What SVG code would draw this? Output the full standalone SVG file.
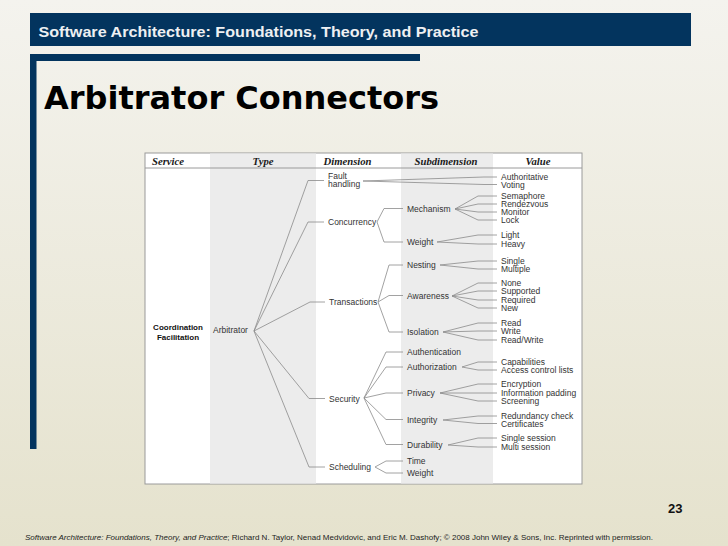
<svg xmlns="http://www.w3.org/2000/svg" width="728" height="546" viewBox="0 0 728 546">
<defs>
<linearGradient id="bg" x1="0" y1="0" x2="0" y2="1">
<stop offset="0" stop-color="#f4f3ee"/>
<stop offset="1" stop-color="#e5e2cd"/>
</linearGradient>
</defs>
<style>
.t{font-family:"Liberation Sans",Arial,sans-serif;font-size:8.5px;fill:#333}
.h{font-family:"Liberation Serif","Times New Roman",serif;font-size:10.7px;font-weight:bold;font-style:italic;fill:#1a1a1a}
.c{fill:none;stroke:#8a8a8a;stroke-width:0.8}
</style>
<rect x="0" y="0" width="728" height="546" fill="url(#bg)"/>
<g id="slide-frame">
<rect x="30" y="13" width="661" height="33" fill="#03345e"/>
<text x="38.5" y="36.5" font-family="Liberation Sans,Arial,sans-serif" font-size="15" font-weight="bold" fill="#eef0f2" textLength="440" lengthAdjust="spacingAndGlyphs">Software Architecture: Foundations, Theory, and Practice</text>
<rect x="30" y="54" width="390" height="7" fill="#03345e"/>
<rect x="30" y="54" width="6.5" height="395" fill="#03345e"/>
<text x="44" y="109" font-family="DejaVu Sans,Verdana,sans-serif" font-size="32" font-weight="bold" fill="#000">Arbitrator Connectors</text>
</g>
<g id="table">
<rect x="145" y="153" width="437" height="331" fill="#fff" stroke="#9a9a9a" stroke-width="1"/>
<rect x="210" y="153.5" width="106" height="330" fill="#ececec"/>
<rect x="401" y="153.5" width="92" height="330" fill="#ececec"/>
<line x1="145" y1="168" x2="582" y2="168" stroke="#9a9a9a" stroke-width="1"/>
<text class="h" x="152" y="164.5">Service</text>
<text class="h" x="263" y="164.5" text-anchor="middle">Type</text>
<text class="h" x="347.5" y="164.5" text-anchor="middle">Dimension</text>
<text class="h" x="446" y="164.5" text-anchor="middle">Subdimension</text>
<text class="h" x="538" y="164.5" text-anchor="middle">Value</text>
</g>
<g id="connectors">
<polyline class="c" points="254,331 308,180.5 324,180.5"/>
<polyline class="c" points="254,331 308,222 324,222"/>
<polyline class="c" points="254,331 310,302 325,302"/>
<polyline class="c" points="254,331 309,398.5 325,398.5"/>
<polyline class="c" points="254,331 309,467 325,467"/>
<polyline class="c" points="363,181 484,177 497,177"/>
<polyline class="c" points="363,181 484,184.5 497,184.5"/>
<polyline class="c" points="377,222 384,208.5 403,208.5"/>
<polyline class="c" points="377,222 384,242 403,242"/>
<polyline class="c" points="378,302 389,265 403,265"/>
<polyline class="c" points="378,302 389,295.5 403,295.5"/>
<polyline class="c" points="378,302 389,332 403,332"/>
<polyline class="c" points="364,398 386,352 403,352"/>
<polyline class="c" points="364,398 386,367 403,367"/>
<polyline class="c" points="364,398 386,393 403,393"/>
<polyline class="c" points="364,398 386,419.5 403,419.5"/>
<polyline class="c" points="364,398 386,444.5 403,444.5"/>
<polyline class="c" points="375,467 386,461 403,461"/>
<polyline class="c" points="375,467 386,473 403,473"/>
<polyline class="c" points="455,209 478,196 497,196"/>
<polyline class="c" points="455,209 478,204 497,204"/>
<polyline class="c" points="455,209 478,212 497,212"/>
<polyline class="c" points="455,209 478,220 497,220"/>
<polyline class="c" points="437,242 478,235 497,235"/>
<polyline class="c" points="437,242 478,244 497,244"/>
<polyline class="c" points="440,265 478,261 497,261"/>
<polyline class="c" points="440,265 478,269 497,269"/>
<polyline class="c" points="452,296 478,283 497,283"/>
<polyline class="c" points="452,296 478,291 497,291"/>
<polyline class="c" points="452,296 478,300 497,300"/>
<polyline class="c" points="452,296 478,308 497,308"/>
<polyline class="c" points="443,332 478,323 497,323"/>
<polyline class="c" points="443,332 478,331 497,331"/>
<polyline class="c" points="443,332 478,340 497,340"/>
<polyline class="c" points="462,367 478,362 497,362"/>
<polyline class="c" points="462,367 478,370 497,370"/>
<polyline class="c" points="440,393 478,384 497,384"/>
<polyline class="c" points="440,393 478,393 497,393"/>
<polyline class="c" points="440,393 478,401 497,401"/>
<polyline class="c" points="443,420 478,416 497,416"/>
<polyline class="c" points="443,420 478,423.5 497,423.5"/>
<polyline class="c" points="448,445 478,438 497,438"/>
<polyline class="c" points="448,445 478,447 497,447"/>
</g>
<g id="service">
<text x="178" y="330" text-anchor="middle" font-family="Liberation Sans,Arial,sans-serif" font-size="8" font-weight="bold" fill="#111">Coordination</text>
<text x="178" y="340" text-anchor="middle" font-family="Liberation Sans,Arial,sans-serif" font-size="8" font-weight="bold" fill="#111">Facilitation</text>
</g>
<g id="type-arbitrator"><text class="t" x="213" y="333">Arbitrator</text></g>
<g id="dim-fault"><text class="t" x="328" y="179">Fault</text><text class="t" x="328" y="186.5">handling</text></g>
<g id="dim-concurrency"><text class="t" x="328" y="225">Concurrency</text></g>
<g id="dim-transactions"><text class="t" x="329" y="305">Transactions</text></g>
<g id="dim-security"><text class="t" x="329" y="401.5">Security</text></g>
<g id="dim-scheduling"><text class="t" x="329" y="470">Scheduling</text></g>
<g id="sub-mechanism"><text class="t" x="407" y="212">Mechanism</text></g>
<g id="sub-weight"><text class="t" x="407" y="245">Weight</text></g>
<g id="sub-nesting"><text class="t" x="407" y="268">Nesting</text></g>
<g id="sub-awareness"><text class="t" x="407" y="298.5">Awareness</text></g>
<g id="sub-isolation"><text class="t" x="407" y="335">Isolation</text></g>
<g id="sub-authentication"><text class="t" x="407" y="355">Authentication</text></g>
<g id="sub-authorization"><text class="t" x="407" y="370">Authorization</text></g>
<g id="sub-privacy"><text class="t" x="407" y="396">Privacy</text></g>
<g id="sub-integrity"><text class="t" x="407" y="422.5">Integrity</text></g>
<g id="sub-durability"><text class="t" x="407" y="447.5">Durability</text></g>
<g id="sub-time"><text class="t" x="407" y="464">Time</text></g>
<g id="sub-weight2"><text class="t" x="407" y="476">Weight</text></g>
<g id="values">
<text class="t" x="501" y="180">Authoritative</text>
<text class="t" x="501" y="187.5">Voting</text>
<text class="t" x="501" y="199">Semaphore</text>
<text class="t" x="501" y="207">Rendezvous</text>
<text class="t" x="501" y="215">Monitor</text>
<text class="t" x="501" y="223">Lock</text>
<text class="t" x="501" y="238">Light</text>
<text class="t" x="501" y="247">Heavy</text>
<text class="t" x="501" y="264">Single</text>
<text class="t" x="501" y="272">Multiple</text>
<text class="t" x="501" y="286">None</text>
<text class="t" x="501" y="294">Supported</text>
<text class="t" x="501" y="303">Required</text>
<text class="t" x="501" y="311">New</text>
<text class="t" x="501" y="326">Read</text>
<text class="t" x="501" y="334">Write</text>
<text class="t" x="501" y="343">Read/Write</text>
<text class="t" x="501" y="365">Capabilities</text>
<text class="t" x="501" y="373">Access control lists</text>
<text class="t" x="501" y="387">Encryption</text>
<text class="t" x="501" y="396">Information padding</text>
<text class="t" x="501" y="404">Screening</text>
<text class="t" x="501" y="419">Redundancy check</text>
<text class="t" x="501" y="426.5">Certificates</text>
<text class="t" x="501" y="441">Single session</text>
<text class="t" x="501" y="450">Multi session</text>
</g>
<g id="footer">
<text x="668" y="513" font-family="Liberation Sans,Arial,sans-serif" font-size="13" font-weight="bold" fill="#111">23</text>
<text x="25" y="540" font-family="Liberation Sans,Arial,sans-serif" font-size="7.6" fill="#222" textLength="628" lengthAdjust="spacingAndGlyphs"><tspan font-style="italic">Software Architecture: Foundations, Theory, and Practice</tspan>; Richard N. Taylor, Nenad Medvidovic, and Eric M. Dashofy; © 2008 John Wiley &amp; Sons, Inc. Reprinted with permission.</text>
</g>
</svg>
